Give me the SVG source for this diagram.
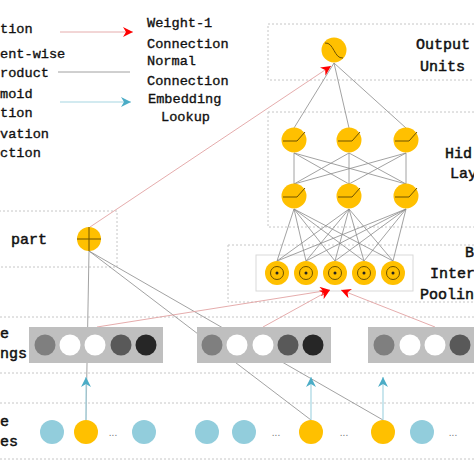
<svg xmlns="http://www.w3.org/2000/svg" width="474" height="474" viewBox="0 0 474 474">
<style>
.t{font-family:"Liberation Mono","DejaVu Sans Mono",monospace;fill:#111;stroke:#111;stroke-width:0.35;}
.s{font-size:13.6px;}
.l{font-size:15px;stroke-width:0.5;}
.dash{fill:none;stroke:#c6c6c6;stroke-width:1;stroke-dasharray:2,2;}
.c{stroke:#8a8a8a;stroke-width:0.8;fill:none;}
.r{stroke:#e2a3a3;stroke-width:0.9;fill:none;}
.b{stroke:#a6d6e2;stroke-width:1.2;fill:none;}
.y{fill:#ffc000;}
.bl{fill:#92cddc;}
.sym{stroke:#6e5200;stroke-width:1;fill:none;}
.emb{fill:#bfbfbf;}
.dots{font-family:"Liberation Sans",sans-serif;font-size:10px;fill:#777;}
</style>
<defs>
<marker id="ra" markerUnits="userSpaceOnUse" markerWidth="12" markerHeight="10" refX="10" refY="5" orient="auto"><path d="M0,0 L10,5 L0,10 L3,5 z" fill="#f00"/></marker>
<marker id="ba" markerUnits="userSpaceOnUse" markerWidth="12" markerHeight="10" refX="10" refY="5" orient="auto"><path d="M0,0 L10,5 L0,10 L3,5 z" fill="#4bacc6"/></marker>
</defs>
<rect width="474" height="474" fill="#fff"/>
<g id="frames">
<rect class="dash" x="268" y="24" width="220" height="56"/>
<rect class="dash" x="268" y="112" width="220" height="115"/>
<rect class="dash" x="-5" y="211" width="122" height="56"/>
<rect class="dash" x="228" y="245" width="260" height="57"/>
<rect x="256" y="255" width="157" height="36" fill="none" stroke="#d9d9d9" stroke-width="1"/>
<line class="dash" x1="0" y1="317" x2="474" y2="317"/>
<line class="dash" x1="0" y1="373" x2="474" y2="373"/>
<line class="dash" x1="0" y1="403" x2="474" y2="403"/>
<line class="dash" x1="0" y1="459" x2="474" y2="459"/>
</g>
<g id="legend">
<line class="r" x1="60" y1="32" x2="133" y2="32" marker-end="url(#ra)"/>
<line x1="58" y1="72" x2="130" y2="72" stroke="#a0a0a0" stroke-width="1"/>
<line class="b" x1="60" y1="102" x2="131" y2="102" marker-end="url(#ba)"/>
<text class="t s" x="0" y="33">tion</text>
<text class="t s" x="0" y="58">ent-wise</text>
<text class="t s" x="0" y="77">roduct</text>
<text class="t s" x="0" y="98">moid</text>
<text class="t s" x="0" y="117">tion</text>
<text class="t s" x="0" y="138">vation</text>
<text class="t s" x="0" y="157">ction</text>
<text class="t s" x="147" y="27">Weight-1</text>
<text class="t s" x="147" y="48">Connection</text>
<text class="t s" x="147" y="65">Normal</text>
<text class="t s" x="147" y="85">Connection</text>
<text class="t s" x="148" y="103">Embedding</text>
<text class="t s" x="161" y="121">Lookup</text>
</g>
<g id="labels">
<text class="t l" x="416" y="49">Output</text>
<text class="t l" x="420" y="71">Units</text>
<text class="t l" x="445" y="158">Hid</text>
<text class="t l" x="450" y="178">Lay</text>
<text class="t l" x="465" y="257">B</text>
<text class="t l" x="430" y="278">Inter</text>
<text class="t l" x="420" y="299">Poolin</text>
<text class="t l" x="11" y="244">part</text>
<text class="t l" x="0" y="338">e</text>
<text class="t l" x="0" y="358">ngs</text>
<text class="t l" x="0" y="426">e</text>
<text class="t l" x="0" y="446">es</text>
</g>
<g id="connectors">
<line class="c" x1="334" y1="63" x2="294" y2="128"/>
<line class="c" x1="334" y1="63" x2="349" y2="128"/>
<line class="c" x1="334" y1="63" x2="406" y2="128"/>
<g>
<line class="c" x1="294" y1="153" x2="294" y2="184"/><line class="c" x1="294" y1="153" x2="349" y2="184"/><line class="c" x1="294" y1="153" x2="406" y2="184"/>
<line class="c" x1="349" y1="153" x2="294" y2="184"/><line class="c" x1="349" y1="153" x2="349" y2="184"/><line class="c" x1="349" y1="153" x2="406" y2="184"/>
<line class="c" x1="406" y1="153" x2="294" y2="184"/><line class="c" x1="406" y1="153" x2="349" y2="184"/><line class="c" x1="406" y1="153" x2="406" y2="184"/>
</g>
<g>
<line class="c" x1="294" y1="209" x2="277" y2="261"/><line class="c" x1="294" y1="209" x2="306" y2="261"/><line class="c" x1="294" y1="209" x2="335" y2="261"/><line class="c" x1="294" y1="209" x2="364" y2="261"/><line class="c" x1="294" y1="209" x2="393" y2="261"/>
<line class="c" x1="349" y1="209" x2="277" y2="261"/><line class="c" x1="349" y1="209" x2="306" y2="261"/><line class="c" x1="349" y1="209" x2="335" y2="261"/><line class="c" x1="349" y1="209" x2="364" y2="261"/><line class="c" x1="349" y1="209" x2="393" y2="261"/>
<line class="c" x1="406" y1="209" x2="277" y2="261"/><line class="c" x1="406" y1="209" x2="306" y2="261"/><line class="c" x1="406" y1="209" x2="335" y2="261"/><line class="c" x1="406" y1="209" x2="364" y2="261"/><line class="c" x1="406" y1="209" x2="393" y2="261"/>
</g>
<line class="c" x1="89" y1="251" x2="86" y2="420"/>
<line class="c" x1="89" y1="251" x2="311" y2="420"/>
<line class="c" x1="89" y1="251" x2="383" y2="420"/>
<line class="r" x1="90" y1="227" x2="331" y2="66" marker-end="url(#ra)"/>
<line class="r" x1="97" y1="327" x2="330" y2="290" marker-end="url(#ra)"/>
<line class="r" x1="263" y1="327" x2="330" y2="290" marker-end="url(#ra)"/>
<line class="r" x1="435" y1="327" x2="341" y2="290" marker-end="url(#ra)"/>
<line class="b" x1="86" y1="420" x2="86" y2="377" marker-end="url(#ba)"/>
<line class="b" x1="311" y1="420" x2="311" y2="377" marker-end="url(#ba)"/>
<line class="b" x1="383" y1="420" x2="383" y2="377" marker-end="url(#ba)"/>
</g>
<g id="output-unit">
<circle class="y" cx="334" cy="50" r="12.5"/>
<path class="sym" d="M325,43 C334,42 334,59 343,58"/>
</g>
<g id="hidden-layers">
<g><circle class="y" cx="294" cy="140" r="12.5"/><path class="sym" d="M283,141 H297 L305,132"/></g>
<g><circle class="y" cx="349" cy="140" r="12.5"/><path class="sym" d="M338,141 H352 L360,132"/></g>
<g><circle class="y" cx="406" cy="140" r="12.5"/><path class="sym" d="M395,141 H409 L417,132"/></g>
<g><circle class="y" cx="294" cy="196" r="12.5"/><path class="sym" d="M283,197 H297 L305,188"/></g>
<g><circle class="y" cx="349" cy="196" r="12.5"/><path class="sym" d="M338,197 H352 L360,188"/></g>
<g><circle class="y" cx="406" cy="196" r="12.5"/><path class="sym" d="M395,197 H409 L417,188"/></g>
</g>
<g id="bi-interaction">
<g><circle class="y" cx="277" cy="273" r="12"/><circle class="sym" cx="277" cy="273" r="6.5"/><circle cx="277" cy="273" r="1.5" fill="#222"/></g>
<g><circle class="y" cx="306" cy="273" r="12"/><circle class="sym" cx="306" cy="273" r="6.5"/><circle cx="306" cy="273" r="1.5" fill="#222"/></g>
<g><circle class="y" cx="335" cy="273" r="12"/><circle class="sym" cx="335" cy="273" r="6.5"/><circle cx="335" cy="273" r="1.5" fill="#222"/></g>
<g><circle class="y" cx="364" cy="273" r="12"/><circle class="sym" cx="364" cy="273" r="6.5"/><circle cx="364" cy="273" r="1.5" fill="#222"/></g>
<g><circle class="y" cx="393" cy="273" r="12"/><circle class="sym" cx="393" cy="273" r="6.5"/><circle cx="393" cy="273" r="1.5" fill="#222"/></g>
</g>
<g id="wide-part">
<circle class="y" cx="89" cy="239" r="12"/>
<path class="sym" d="M77,239 H101 M89,227 V251"/>
</g>
<g id="embedding-1">
<rect class="emb" x="29" y="327" width="134" height="36"/>
<circle cx="45" cy="345" r="10.5" fill="#7f7f7f"/>
<circle cx="70" cy="345" r="10.5" fill="#fff"/>
<circle cx="95" cy="345" r="10.5" fill="#fff"/>
<circle cx="121" cy="345" r="10.5" fill="#595959"/>
<circle cx="146" cy="345" r="10.5" fill="#262626"/>
</g>
<g id="embedding-2">
<rect class="emb" x="197" y="327" width="134" height="36"/>
<circle cx="212" cy="345" r="10.5" fill="#7f7f7f"/>
<circle cx="237" cy="345" r="10.5" fill="#fff"/>
<circle cx="263" cy="345" r="10.5" fill="#fff"/>
<circle cx="288" cy="345" r="10.5" fill="#595959"/>
<circle cx="313" cy="345" r="10.5" fill="#262626"/>
</g>
<g id="embedding-3">
<rect class="emb" x="368" y="327" width="134" height="36"/>
<circle cx="384" cy="345" r="10.5" fill="#7f7f7f"/>
<circle cx="410" cy="345" r="10.5" fill="#fff"/>
<circle cx="435" cy="345" r="10.5" fill="#fff"/>
<circle cx="460" cy="345" r="10.5" fill="#595959"/>
</g>
<g id="features">
<circle class="bl" cx="52" cy="432" r="12"/>
<circle class="y" cx="86" cy="432" r="12"/>
<text class="dots" x="113" y="436" text-anchor="middle">...</text>
<circle class="bl" cx="144" cy="432" r="12"/>
<circle class="bl" cx="207" cy="432" r="12"/>
<circle class="bl" cx="244" cy="432" r="12"/>
<text class="dots" x="276" y="436" text-anchor="middle">...</text>
<circle class="y" cx="311" cy="432" r="12"/>
<text class="dots" x="344" y="436" text-anchor="middle">...</text>
<circle class="y" cx="383" cy="432" r="12"/>
<circle class="bl" cx="422" cy="432" r="12"/>
<text class="dots" x="453" y="436" text-anchor="middle">...</text>
</g>
</svg>
